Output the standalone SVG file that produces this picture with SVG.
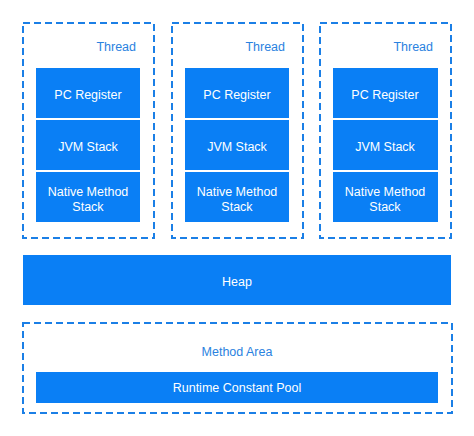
<svg xmlns="http://www.w3.org/2000/svg" width="474" height="436" viewBox="0 0 474 436">
<style>
.dash{fill:none;stroke:#1b7fe6;stroke-width:2;stroke-dasharray:7 4}
.blk{fill:#0a7ff5}
.wt{font-family:"Liberation Sans",Arial,sans-serif;font-size:12.5px;fill:#ffffff;text-anchor:middle}
.bt{font-family:"Liberation Sans",Arial,sans-serif;font-size:12.5px;fill:#2a82e0}
</style>
<rect width="474" height="436" fill="#ffffff"/>
<g id="thread1">
<rect class="dash" x="23" y="23" width="131" height="215"/>
<text class="bt" x="136" y="51" text-anchor="end">Thread</text>
<rect class="blk" x="36" y="68" width="104" height="50"/>
<text class="wt" x="88" y="99">PC Register</text>
<rect class="blk" x="36" y="120" width="104" height="50"/>
<text class="wt" x="88" y="151">JVM Stack</text>
<rect class="blk" x="36" y="172" width="104" height="50"/>
<text class="wt" x="88" y="196">Native Method</text>
<text class="wt" x="88" y="211">Stack</text>
</g>
<g id="thread2">
<rect class="dash" x="172" y="23" width="131" height="215"/>
<text class="bt" x="285" y="51" text-anchor="end">Thread</text>
<rect class="blk" x="185" y="68" width="104" height="50"/>
<text class="wt" x="237" y="99">PC Register</text>
<rect class="blk" x="185" y="120" width="104" height="50"/>
<text class="wt" x="237" y="151">JVM Stack</text>
<rect class="blk" x="185" y="172" width="104" height="50"/>
<text class="wt" x="237" y="196">Native Method</text>
<text class="wt" x="237" y="211">Stack</text>
</g>
<g id="thread3">
<rect class="dash" x="320" y="23" width="131" height="215"/>
<text class="bt" x="433" y="51" text-anchor="end">Thread</text>
<rect class="blk" x="333" y="68" width="105" height="50"/>
<text class="wt" x="385" y="99">PC Register</text>
<rect class="blk" x="333" y="120" width="105" height="50"/>
<text class="wt" x="385" y="151">JVM Stack</text>
<rect class="blk" x="333" y="172" width="105" height="50"/>
<text class="wt" x="385" y="196">Native Method</text>
<text class="wt" x="385" y="211">Stack</text>
</g>
<g id="heap">
<rect class="blk" x="23" y="255" width="428" height="50"/>
<text class="wt" x="237" y="286">Heap</text>
</g>
<g id="methodArea">
<rect class="dash" x="23" y="323" width="429" height="90"/>
<text class="bt" x="237" y="356" text-anchor="middle">Method Area</text>
<rect class="blk" x="36" y="372" width="402" height="31"/>
<text class="wt" x="237" y="392">Runtime Constant Pool</text>
</g>
<g id="connectors"/>
</svg>
